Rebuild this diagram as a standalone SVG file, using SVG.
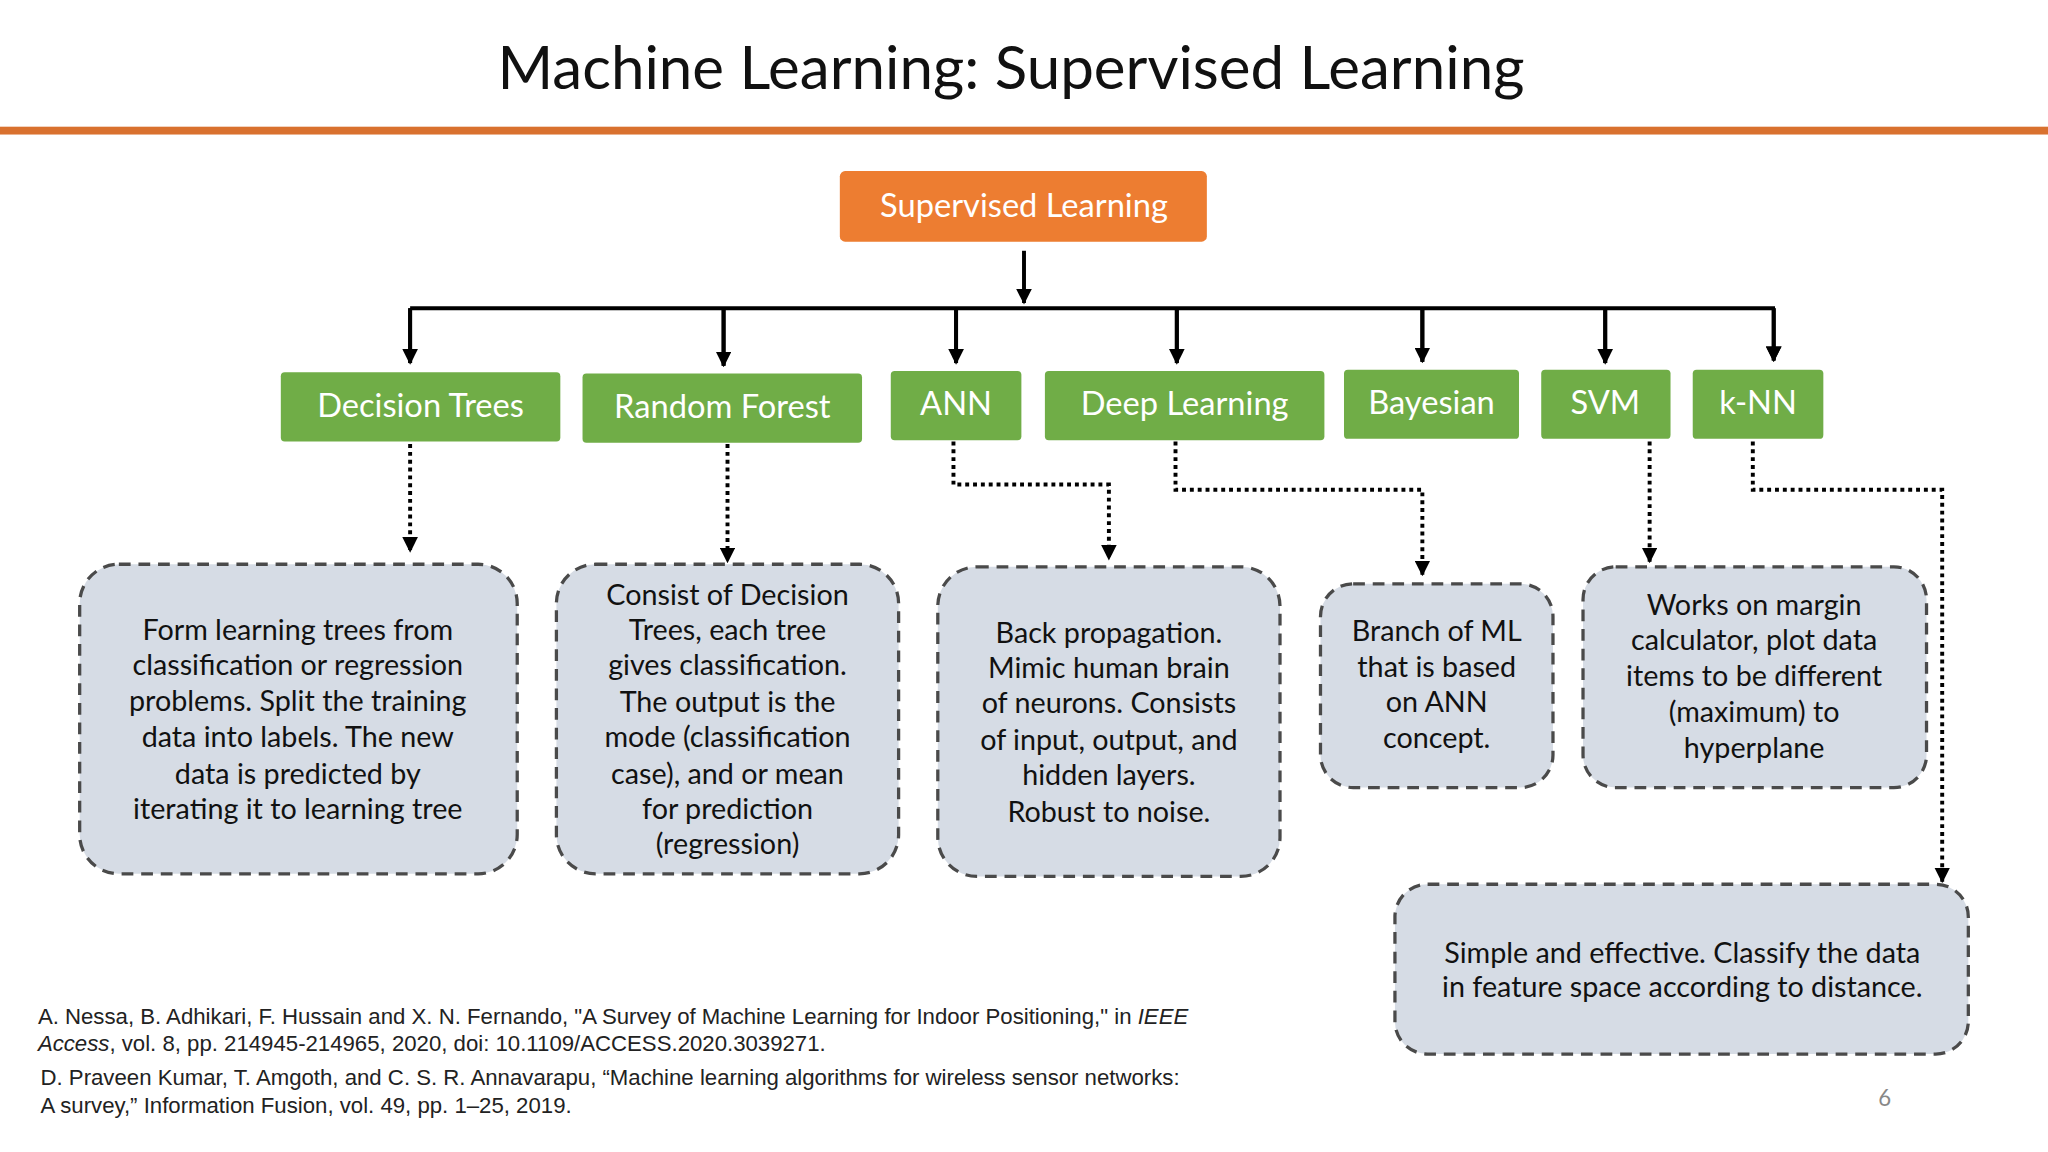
<svg xmlns="http://www.w3.org/2000/svg" width="2048" height="1152" viewBox="0 0 2048 1152">
<defs>
<style>
.t{font-family:Lato,"Noto Sans",sans-serif;text-anchor:middle}
.g{fill:#70ad47}
.gt{font-family:Lato,"Noto Sans",sans-serif;text-anchor:middle;fill:#fff;font-size:25px}
.d{fill:#d6dce5;stroke:#4a4a4a;stroke-width:2.5;stroke-dasharray:9 6}
.dt{font-family:Lato,"Noto Sans",sans-serif;text-anchor:middle;fill:#111;font-size:22px}
.s{stroke:#000;stroke-width:3;fill:none}
.dot{stroke:#000;stroke-width:3;fill:none;stroke-dasharray:3 3}
.ref{font-family:"Liberation Sans",Arial,sans-serif;font-size:17px;fill:#222}
</style>
<marker id="a" viewBox="0 0 10 10" refX="9" refY="5" markerWidth="4" markerHeight="4" orient="auto"><path d="M0,0L10,5L0,10z" fill="#000"/></marker>
</defs>
<rect width="2048" height="1152" fill="#fff"/>
<g transform="scale(1.30612)">
<text class="t" x="774" y="68" font-size="46" fill="#111">Machine Learning: Supervised Learning</text>
<rect x="0" y="97" width="1568" height="6" fill="#d9712f"/>
<g id="connectors">
<path class="s" d="M784,192V232" marker-end="url(#a)"/>
<path class="s" d="M314,236H1359"/>
<path class="s" d="M314,236V278M554,236V280M732,236V278M901,236V278M1089,236V277M1229,236V278M1358,236V276" marker-end="url(#a)"/>
<path class="s" d="M314,236V278" marker-end="url(#a)"/>
<path class="s" d="M554,236V280" marker-end="url(#a)"/>
<path class="s" d="M732,236V278" marker-end="url(#a)"/>
<path class="s" d="M901,236V278" marker-end="url(#a)"/>
<path class="s" d="M1089,236V277" marker-end="url(#a)"/>
<path class="s" d="M1229,236V278" marker-end="url(#a)"/>
<path class="s" d="M1358,236V276" marker-end="url(#a)"/>
<path class="dot" d="M314,340V422" marker-end="url(#a)"/>
<path class="dot" d="M557,340V430" marker-end="url(#a)"/>
<path class="dot" d="M730,338V371H849V428" marker-end="url(#a)"/>
<path class="dot" d="M900,338V375H1089V440" marker-end="url(#a)"/>
<path class="dot" d="M1263,338V430" marker-end="url(#a)"/>
<path class="dot" d="M1342,338V375H1487V675" marker-end="url(#a)"/>
</g>
<g id="root"><rect x="643" y="131" width="281" height="54" rx="4" fill="#ed7d31"/><text class="gt" x="784" y="166" font-size="27">Supervised Learning</text></g>
<g id="dt"><rect class="g" x="215" y="285" width="214" height="53" rx="3"/><text class="gt" x="322" y="319">Decision Trees</text></g>
<g id="rf"><rect class="g" x="446" y="286" width="214" height="53" rx="3"/><text class="gt" x="553" y="320">Random Forest</text></g>
<g id="ann"><rect class="g" x="682" y="284" width="100" height="53" rx="3"/><text class="gt" x="732" y="318">ANN</text></g>
<g id="dl"><rect class="g" x="800" y="284" width="214" height="53" rx="3"/><text class="gt" x="907" y="318">Deep Learning</text></g>
<g id="bay"><rect class="g" x="1029" y="283" width="134" height="53" rx="3"/><text class="gt" x="1096" y="317">Bayesian</text></g>
<g id="svm"><rect class="g" x="1180" y="283" width="99" height="53" rx="3"/><text class="gt" x="1229" y="317">SVM</text></g>
<g id="knn"><rect class="g" x="1296" y="283" width="100" height="53" rx="3"/><text class="gt" x="1346" y="317">k-NN</text></g>
<g id="d1"><rect class="d" x="61" y="432" width="335" height="237" rx="30"/>
<text class="dt"><tspan x="228" y="490">Form learning trees from</tspan><tspan x="228" y="517">classification or regression</tspan><tspan x="228" y="544">problems. Split the training</tspan><tspan x="228" y="572">data into labels. The new</tspan><tspan x="228" y="600">data is predicted by</tspan><tspan x="228" y="627">iterating it to learning tree</tspan></text></g>
<g id="d2"><rect class="d" x="426" y="432" width="262" height="237" rx="30"/>
<text class="dt"><tspan x="557" y="463">Consist of Decision</tspan><tspan x="557" y="490">Trees, each tree</tspan><tspan x="557" y="517">gives classification.</tspan><tspan x="557" y="545">The output is the</tspan><tspan x="557" y="572">mode (classification</tspan><tspan x="557" y="600">case), and or mean</tspan><tspan x="557" y="627">for prediction</tspan><tspan x="557" y="654">(regression)</tspan></text></g>
<g id="d3"><rect class="d" x="718" y="434" width="262" height="237" rx="30"/>
<text class="dt"><tspan x="849" y="492">Back propagation.</tspan><tspan x="849" y="519">Mimic human brain</tspan><tspan x="849" y="546">of neurons. Consists</tspan><tspan x="849" y="574">of input, output, and</tspan><tspan x="849" y="601">hidden layers.</tspan><tspan x="849" y="629">Robust to noise.</tspan></text></g>
<g id="d4"><rect class="d" x="1011" y="447" width="178" height="156" rx="25"/>
<text class="dt"><tspan x="1100" y="491">Branch of ML</tspan><tspan x="1100" y="518">that is based</tspan><tspan x="1100" y="545">on ANN</tspan><tspan x="1100" y="573">concept.</tspan></text></g>
<g id="d5"><rect class="d" x="1212" y="434" width="263" height="169" rx="25"/>
<text class="dt"><tspan x="1343" y="471">Works on margin</tspan><tspan x="1343" y="498">calculator, plot data</tspan><tspan x="1343" y="525">items to be different</tspan><tspan x="1343" y="553">(maximum) to</tspan><tspan x="1343" y="580">hyperplane</tspan></text></g>
<g id="d6"><rect class="d" x="1068" y="677" width="439" height="130" rx="25"/>
<text class="dt"><tspan x="1288" y="737">Simple and effective. Classify the data</tspan><tspan x="1288" y="763">in feature space according to distance.</tspan></text></g>
<text class="ref"><tspan x="29" y="784">A. Nessa, B. Adhikari, F. Hussain and X. N. Fernando, "A Survey of Machine Learning for Indoor Positioning," in <tspan font-style="italic">IEEE</tspan></tspan><tspan x="29" y="805"><tspan font-style="italic">Access</tspan>, vol. 8, pp. 214945-214965, 2020, doi: 10.1109/ACCESS.2020.3039271.</tspan><tspan x="31" y="831">D. Praveen Kumar, T. Amgoth, and C. S. R. Annavarapu, “Machine learning algorithms for wireless sensor networks:</tspan><tspan x="31" y="852">A survey,” Information Fusion, vol. 49, pp. 1–25, 2019.</tspan></text>
<text class="t" x="1443" y="847" font-size="17" fill="#888">6</text>
</g>
</svg>
